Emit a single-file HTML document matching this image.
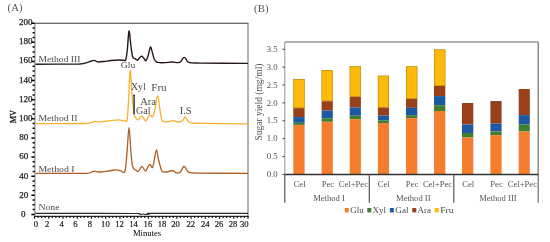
<!DOCTYPE html>
<html><head><meta charset="utf-8"><style>
html,body{margin:0;padding:0;background:#fff;width:550px;height:242px;overflow:hidden}
svg{display:block}
text{font-family:'Liberation Serif','Times New Roman',serif}
</style></head><body>
<svg width="550" height="242" viewBox="0 0 550 242">
<rect x="0" y="0" width="550" height="242" fill="#fff"/>
<line x1="34.5" y1="23.3" x2="248.5" y2="23.3" stroke="#3a3a3a" stroke-width="1.1"/>
<line x1="248.0" y1="23.3" x2="248.0" y2="217.5" stroke="#8a8a8a" stroke-width="1.3"/>
<line x1="34.9" y1="22.8" x2="34.9" y2="217.2" stroke="#777" stroke-width="1.0"/>
<line x1="34.5" y1="216.4" x2="248.5" y2="216.4" stroke="#2a2a2a" stroke-width="1.15"/>
<path d="M31.4 214.40H34.7M32.6 209.62H34.7M32.6 204.84H34.7M32.6 200.06H34.7M31.4 195.28H34.7M32.6 190.50H34.7M32.6 185.72H34.7M32.6 180.94H34.7M31.4 176.16H34.7M32.6 171.38H34.7M32.6 166.60H34.7M32.6 161.82H34.7M31.4 157.04H34.7M32.6 152.26H34.7M32.6 147.48H34.7M32.6 142.70H34.7M31.4 137.92H34.7M32.6 133.14H34.7M32.6 128.36H34.7M32.6 123.58H34.7M31.4 118.80H34.7M32.6 114.02H34.7M32.6 109.24H34.7M32.6 104.46H34.7M31.4 99.68H34.7M32.6 94.90H34.7M32.6 90.12H34.7M32.6 85.34H34.7M31.4 80.56H34.7M32.6 75.78H34.7M32.6 71.00H34.7M32.6 66.22H34.7M31.4 61.44H34.7M32.6 56.66H34.7M32.6 51.88H34.7M32.6 47.10H34.7M31.4 42.32H34.7M32.6 37.54H34.7M32.6 32.76H34.7M32.6 27.98H34.7M31.4 23.20H34.7" stroke="#000" stroke-width="1.5" fill="none"/>
<path d="M34.50 216.2V218.8M38.06 216.2V218.0M41.62 216.2V218.0M45.17 216.2V218.0M48.73 216.2V218.8M52.29 216.2V218.0M55.85 216.2V218.0M59.41 216.2V218.0M62.97 216.2V218.8M66.53 216.2V218.0M70.08 216.2V218.0M73.64 216.2V218.0M77.20 216.2V218.8M80.76 216.2V218.0M84.32 216.2V218.0M87.88 216.2V218.0M91.43 216.2V218.8M94.99 216.2V218.0M98.55 216.2V218.0M102.11 216.2V218.0M105.67 216.2V218.8M109.22 216.2V218.0M112.78 216.2V218.0M116.34 216.2V218.0M119.90 216.2V218.8M123.46 216.2V218.0M127.02 216.2V218.0M130.57 216.2V218.0M134.13 216.2V218.8M137.69 216.2V218.0M141.25 216.2V218.0M144.81 216.2V218.0M148.37 216.2V218.8M151.93 216.2V218.0M155.48 216.2V218.0M159.04 216.2V218.0M162.60 216.2V218.8M166.16 216.2V218.0M169.72 216.2V218.0M173.28 216.2V218.0M176.83 216.2V218.8M180.39 216.2V218.0M183.95 216.2V218.0M187.51 216.2V218.0M191.07 216.2V218.8M194.62 216.2V218.0M198.18 216.2V218.0M201.74 216.2V218.0M205.30 216.2V218.8M208.86 216.2V218.0M212.42 216.2V218.0M215.97 216.2V218.0M219.53 216.2V218.8M223.09 216.2V218.0M226.65 216.2V218.0M230.21 216.2V218.0M233.77 216.2V218.8M237.32 216.2V218.0M240.88 216.2V218.0M244.44 216.2V218.0M248.00 216.2V218.8" stroke="#111" stroke-width="1.2" fill="none"/>
<text x="25.6" y="216.90" text-anchor="end" font-size="9.0" fill="#1a1a1a" stroke="#1a1a1a" stroke-width="0.25">0</text>
<text x="28.3" y="197.70" text-anchor="end" font-size="9.0" fill="#1a1a1a" stroke="#1a1a1a" stroke-width="0.25">20</text>
<text x="28.3" y="178.50" text-anchor="end" font-size="9.0" fill="#1a1a1a" stroke="#1a1a1a" stroke-width="0.25">40</text>
<text x="28.3" y="159.30" text-anchor="end" font-size="9.0" fill="#1a1a1a" stroke="#1a1a1a" stroke-width="0.25">60</text>
<text x="28.3" y="140.10" text-anchor="end" font-size="9.0" fill="#1a1a1a" stroke="#1a1a1a" stroke-width="0.25">80</text>
<text x="32.4" y="120.90" text-anchor="end" font-size="9.0" fill="#1a1a1a" stroke="#1a1a1a" stroke-width="0.25">100</text>
<text x="32.4" y="101.70" text-anchor="end" font-size="9.0" fill="#1a1a1a" stroke="#1a1a1a" stroke-width="0.25">120</text>
<text x="32.4" y="82.50" text-anchor="end" font-size="9.0" fill="#1a1a1a" stroke="#1a1a1a" stroke-width="0.25">140</text>
<text x="32.4" y="63.30" text-anchor="end" font-size="9.0" fill="#1a1a1a" stroke="#1a1a1a" stroke-width="0.25">160</text>
<text x="32.4" y="44.10" text-anchor="end" font-size="9.0" fill="#1a1a1a" stroke="#1a1a1a" stroke-width="0.25">180</text>
<text x="32.4" y="24.90" text-anchor="end" font-size="9.0" fill="#1a1a1a" stroke="#1a1a1a" stroke-width="0.25">200</text>
<text x="35.9" y="227.4" text-anchor="middle" font-size="8.6" fill="#1a1a1a" stroke="#1a1a1a" stroke-width="0.2">0</text>
<text x="47.1" y="227.4" text-anchor="middle" font-size="8.6" fill="#1a1a1a" stroke="#1a1a1a" stroke-width="0.2">2</text>
<text x="61.6" y="227.4" text-anchor="middle" font-size="8.6" fill="#1a1a1a" stroke="#1a1a1a" stroke-width="0.2">4</text>
<text x="75.3" y="227.4" text-anchor="middle" font-size="8.6" fill="#1a1a1a" stroke="#1a1a1a" stroke-width="0.2">6</text>
<text x="89.8" y="227.4" text-anchor="middle" font-size="8.6" fill="#1a1a1a" stroke="#1a1a1a" stroke-width="0.2">8</text>
<text x="105.4" y="227.4" text-anchor="middle" font-size="8.6" fill="#1a1a1a" stroke="#1a1a1a" stroke-width="0.2">10</text>
<text x="119.6" y="227.4" text-anchor="middle" font-size="8.6" fill="#1a1a1a" stroke="#1a1a1a" stroke-width="0.2">12</text>
<text x="133.5" y="227.4" text-anchor="middle" font-size="8.6" fill="#1a1a1a" stroke="#1a1a1a" stroke-width="0.2">14</text>
<text x="147.9" y="227.4" text-anchor="middle" font-size="8.6" fill="#1a1a1a" stroke="#1a1a1a" stroke-width="0.2">16</text>
<text x="162.0" y="227.4" text-anchor="middle" font-size="8.6" fill="#1a1a1a" stroke="#1a1a1a" stroke-width="0.2">18</text>
<text x="175.5" y="227.4" text-anchor="middle" font-size="8.6" fill="#1a1a1a" stroke="#1a1a1a" stroke-width="0.2">20</text>
<text x="190.7" y="227.4" text-anchor="middle" font-size="8.6" fill="#1a1a1a" stroke="#1a1a1a" stroke-width="0.2">22</text>
<text x="205.3" y="227.4" text-anchor="middle" font-size="8.6" fill="#1a1a1a" stroke="#1a1a1a" stroke-width="0.2">24</text>
<text x="219.0" y="227.4" text-anchor="middle" font-size="8.6" fill="#1a1a1a" stroke="#1a1a1a" stroke-width="0.2">26</text>
<text x="233.0" y="227.4" text-anchor="middle" font-size="8.6" fill="#1a1a1a" stroke="#1a1a1a" stroke-width="0.2">28</text>
<text x="244.2" y="227.4" text-anchor="middle" font-size="8.6" fill="#1a1a1a" stroke="#1a1a1a" stroke-width="0.2">30</text>
<text x="147" y="235.8" text-anchor="middle" font-size="8.6">Minutes</text>
<text transform="translate(16.0,116.6) rotate(-90)" text-anchor="middle" font-size="8.4" fill="#111" stroke="#111" stroke-width="0.25">MV</text>
<text x="7.6" y="11.3" font-size="10.8" fill="#555">(A)</text>
<path d="M35.50 213.40 C46.25 213.40 83.25 213.38 100.00 213.40 C116.75 213.42 129.58 213.47 136.00 213.50 C142.42 213.53 137.75 213.45 138.50 213.60 C139.25 213.75 139.75 214.33 140.50 214.40 C141.25 214.47 142.17 213.98 143.00 214.00 C143.83 214.02 144.58 214.48 145.50 214.50 C146.42 214.52 147.67 214.27 148.50 214.10 C149.33 213.93 149.25 213.62 150.50 213.50 C151.75 213.38 139.75 213.43 156.00 213.40 C172.25 213.37 232.67 213.32 248.00 213.30" stroke="#2a2a2a" stroke-width="1.2" fill="none" stroke-linejoin="round"/>
<path d="M35.50 173.40 C42.92 173.40 71.23 173.43 80.00 173.40 C88.77 173.37 86.18 173.40 88.10 173.20 C90.02 173.00 90.50 172.55 91.50 172.20 C92.50 171.85 93.22 171.17 94.10 171.10 C94.98 171.03 95.43 171.67 96.80 171.80 C98.17 171.93 99.93 172.12 102.30 171.90 C104.67 171.68 108.65 170.83 111.00 170.50 C113.35 170.17 114.77 169.85 116.40 169.90 C118.03 169.95 119.37 170.62 120.80 170.80 C122.23 170.98 123.93 174.47 125.00 171.00 C126.07 167.53 126.53 157.28 127.20 150.00 C127.87 142.72 128.40 127.30 129.00 127.30 C129.60 127.30 130.27 143.80 130.80 150.00 C131.33 156.20 131.75 161.45 132.20 164.50 C132.65 167.55 132.87 167.33 133.50 168.30 C134.13 169.27 135.18 169.78 136.00 170.30 C136.82 170.82 137.68 171.73 138.40 171.40 C139.12 171.07 139.72 169.15 140.30 168.30 C140.88 167.45 141.32 166.20 141.90 166.30 C142.48 166.40 143.15 168.12 143.80 168.90 C144.45 169.68 145.10 171.35 145.80 171.00 C146.50 170.65 147.28 167.88 148.00 166.80 C148.72 165.72 149.35 164.37 150.10 164.50 C150.85 164.63 151.80 168.35 152.50 167.60 C153.20 166.85 153.65 162.97 154.30 160.00 C154.95 157.03 155.68 149.80 156.40 149.80 C157.12 149.80 157.75 156.60 158.60 160.00 C159.45 163.40 160.68 168.18 161.50 170.20 C162.32 172.22 162.42 171.85 163.50 172.10 C164.58 172.35 166.53 171.97 168.00 171.70 C169.47 171.43 170.97 170.35 172.30 170.50 C173.63 170.65 174.88 172.20 176.00 172.60 C177.12 173.00 178.12 173.23 179.00 172.90 C179.88 172.57 180.67 171.48 181.30 170.60 C181.93 169.72 182.33 168.28 182.80 167.60 C183.27 166.92 183.65 166.47 184.10 166.50 C184.55 166.53 184.98 167.12 185.50 167.80 C186.02 168.48 186.53 169.82 187.20 170.60 C187.87 171.38 187.37 172.08 189.50 172.50 C191.63 172.92 190.25 172.97 200.00 173.10 C209.75 173.23 240.00 173.27 248.00 173.30" stroke="#AE5E22" stroke-width="1.3" fill="none" stroke-linejoin="round"/>
<path d="M36.00 123.60 C43.33 123.58 71.33 123.55 80.00 123.50 C88.67 123.45 86.00 123.50 88.00 123.30 C90.00 123.10 90.80 122.63 92.00 122.30 C93.20 121.97 94.22 121.38 95.20 121.30 C96.18 121.22 96.53 121.75 97.90 121.80 C99.27 121.85 101.03 121.85 103.40 121.60 C105.77 121.35 109.65 120.60 112.10 120.30 C114.55 120.00 116.47 119.77 118.10 119.80 C119.73 119.83 120.67 120.32 121.90 120.50 C123.13 120.68 124.62 121.07 125.50 120.90 C126.38 120.73 126.68 122.98 127.20 119.50 C127.72 116.02 128.10 108.18 128.60 100.00 C129.10 91.82 129.62 71.23 130.20 70.40 C130.78 69.57 131.52 88.07 132.10 95.00 C132.68 101.93 133.25 108.45 133.70 112.00 C134.15 115.55 134.30 115.12 134.80 116.30 C135.30 117.48 136.10 118.50 136.70 119.10 C137.30 119.70 137.80 120.17 138.40 119.90 C139.00 119.63 139.72 118.13 140.30 117.50 C140.88 116.87 141.30 115.88 141.90 116.10 C142.50 116.32 143.25 118.00 143.90 118.80 C144.55 119.60 145.12 121.12 145.80 120.90 C146.48 120.68 147.28 118.52 148.00 117.50 C148.72 116.48 149.32 114.90 150.10 114.80 C150.88 114.70 151.92 117.70 152.70 116.90 C153.48 116.10 153.98 113.55 154.80 110.00 C155.62 106.45 156.73 95.60 157.60 95.60 C158.47 95.60 159.27 105.90 160.00 110.00 C160.73 114.10 161.17 118.23 162.00 120.20 C162.83 122.17 163.83 121.55 165.00 121.80 C166.17 122.05 167.60 121.90 169.00 121.70 C170.40 121.50 171.90 120.55 173.40 120.60 C174.90 120.65 176.48 121.97 178.00 122.00 C179.52 122.03 181.30 121.63 182.50 120.80 C183.70 119.97 184.33 117.02 185.20 117.00 C186.07 116.98 186.82 119.73 187.70 120.70 C188.58 121.67 188.45 122.37 190.50 122.80 C192.55 123.23 190.42 123.13 200.00 123.30 C209.58 123.47 240.00 123.72 248.00 123.80" stroke="#F7B02E" stroke-width="1.3" fill="none" stroke-linejoin="round"/>
<path d="M35.50 64.20 C42.08 64.18 67.25 64.18 75.00 64.10 C82.75 64.02 80.00 63.95 82.00 63.70 C84.00 63.45 85.42 63.05 87.00 62.60 C88.58 62.15 90.27 61.37 91.50 61.00 C92.73 60.63 93.57 60.33 94.40 60.40 C95.23 60.47 95.82 61.13 96.50 61.40 C97.18 61.67 97.25 61.98 98.50 62.00 C99.75 62.02 101.92 61.75 104.00 61.50 C106.08 61.25 108.57 60.75 111.00 60.50 C113.43 60.25 116.52 60.03 118.60 60.00 C120.68 59.97 122.32 60.33 123.50 60.30 C124.68 60.27 125.07 61.52 125.70 59.80 C126.33 58.08 126.75 54.80 127.30 50.00 C127.85 45.20 128.42 31.83 129.00 31.00 C129.58 30.17 130.20 40.70 130.80 45.00 C131.40 49.30 131.90 54.53 132.60 56.80 C133.30 59.07 134.18 58.03 135.00 58.60 C135.82 59.17 136.70 60.37 137.50 60.20 C138.30 60.03 139.07 58.25 139.80 57.60 C140.53 56.95 141.20 56.13 141.90 56.30 C142.60 56.47 143.32 57.88 144.00 58.60 C144.68 59.32 145.28 61.20 146.00 60.60 C146.72 60.00 147.55 57.27 148.30 55.00 C149.05 52.73 149.78 47.25 150.50 47.00 C151.22 46.75 151.98 51.50 152.60 53.50 C153.22 55.50 153.57 57.62 154.20 59.00 C154.83 60.38 155.52 61.20 156.40 61.80 C157.28 62.40 158.07 62.47 159.50 62.60 C160.93 62.73 162.95 62.70 165.00 62.60 C167.05 62.50 169.63 62.00 171.80 62.00 C173.97 62.00 176.48 62.68 178.00 62.60 C179.52 62.52 180.17 62.10 180.90 61.50 C181.63 60.90 181.85 59.68 182.40 59.00 C182.95 58.32 183.60 57.40 184.20 57.40 C184.80 57.40 185.47 58.32 186.00 59.00 C186.53 59.68 186.65 60.87 187.40 61.50 C188.15 62.13 188.40 62.53 190.50 62.80 C192.60 63.07 190.42 63.00 200.00 63.10 C209.58 63.20 240.00 63.35 248.00 63.40" stroke="#231815" stroke-width="1.4" fill="none" stroke-linejoin="round"/>
<line x1="134.1" y1="95.0" x2="134.1" y2="114.2" stroke="#161616" stroke-width="1.25"/>
<circle cx="134.1" cy="95.3" r="0.8" fill="#111"/>
<text x="38.5" y="61.7" font-size="9.0" fill="#4a4a4a" textLength="42.0" lengthAdjust="spacingAndGlyphs">Method III</text>
<text x="38.4" y="120.9" font-size="9.2" fill="#4a4a4a" textLength="39.1" lengthAdjust="spacingAndGlyphs">Method II</text>
<text x="38.4" y="171.7" font-size="9.0" fill="#4a4a4a" textLength="36.1" lengthAdjust="spacingAndGlyphs">Method I</text>
<text x="38.5" y="209.5" font-size="8.6" fill="#4a4a4a" textLength="21.0" lengthAdjust="spacingAndGlyphs">None</text>
<text x="120.8" y="67.7" font-size="8.8" fill="#4a4a4a" textLength="14.6" lengthAdjust="spacingAndGlyphs">Glu</text>
<text x="131.0" y="89.5" font-size="9.6" fill="#4a4a4a" textLength="14.7" lengthAdjust="spacingAndGlyphs">Xyl</text>
<text x="140.2" y="104.7" font-size="9.5" fill="#4a4a4a" textLength="15.8" lengthAdjust="spacingAndGlyphs">Ara</text>
<text x="136.0" y="114.0" font-size="9.6" fill="#4a4a4a" textLength="14.5" lengthAdjust="spacingAndGlyphs">Gal</text>
<text x="151.2" y="90.7" font-size="9.7" fill="#4a4a4a" textLength="15.5" lengthAdjust="spacingAndGlyphs">Fru</text>
<text x="179.7" y="114.4" font-size="9.8" fill="#4a4a4a" textLength="12.0" lengthAdjust="spacingAndGlyphs">I.S</text>
<text x="254.1" y="11.6" font-size="10.8" fill="#555">(B)</text>
<line x1="284.8" y1="42.0" x2="538.2" y2="42.0" stroke="#9a9a9a" stroke-width="1.3"/>
<line x1="284.8" y1="42.0" x2="284.8" y2="174.5" stroke="#9a9a9a" stroke-width="1.1"/>
<line x1="538.2" y1="42.0" x2="538.2" y2="202.7" stroke="#7a7a7a" stroke-width="1.3"/>
<line x1="282.4" y1="174.50" x2="284.8" y2="174.50" stroke="#444" stroke-width="1"/>
<text x="266.7" y="177.10" font-size="9.1" fill="#505050" textLength="10.9" lengthAdjust="spacingAndGlyphs">0.0</text>
<line x1="282.4" y1="156.60" x2="284.8" y2="156.60" stroke="#444" stroke-width="1"/>
<text x="266.7" y="159.20" font-size="9.1" fill="#505050" textLength="10.9" lengthAdjust="spacingAndGlyphs">0.5</text>
<line x1="282.4" y1="138.70" x2="284.8" y2="138.70" stroke="#444" stroke-width="1"/>
<text x="266.7" y="141.30" font-size="9.1" fill="#505050" textLength="10.9" lengthAdjust="spacingAndGlyphs">1.0</text>
<line x1="282.4" y1="120.80" x2="284.8" y2="120.80" stroke="#444" stroke-width="1"/>
<text x="266.7" y="123.40" font-size="9.1" fill="#505050" textLength="10.9" lengthAdjust="spacingAndGlyphs">1.5</text>
<line x1="282.4" y1="102.90" x2="284.8" y2="102.90" stroke="#444" stroke-width="1"/>
<text x="266.7" y="105.50" font-size="9.1" fill="#505050" textLength="10.9" lengthAdjust="spacingAndGlyphs">2.0</text>
<line x1="282.4" y1="85.00" x2="284.8" y2="85.00" stroke="#444" stroke-width="1"/>
<text x="266.7" y="87.60" font-size="9.1" fill="#505050" textLength="10.9" lengthAdjust="spacingAndGlyphs">2.5</text>
<line x1="282.4" y1="67.10" x2="284.8" y2="67.10" stroke="#444" stroke-width="1"/>
<text x="266.7" y="69.70" font-size="9.1" fill="#505050" textLength="10.9" lengthAdjust="spacingAndGlyphs">3.0</text>
<line x1="282.4" y1="49.20" x2="284.8" y2="49.20" stroke="#444" stroke-width="1"/>
<text x="266.7" y="51.80" font-size="9.1" fill="#505050" textLength="10.9" lengthAdjust="spacingAndGlyphs">3.5</text>
<text transform="translate(261.6,102.1) rotate(-90)" text-anchor="middle" font-size="9.5" fill="#505050">Sugar yield (mg/ml)</text>
<rect x="293.30" y="79.00" width="11.30" height="29.10" fill="#FDBA0A"/>
<rect x="293.30" y="108.10" width="11.30" height="9.00" fill="#97401A"/>
<rect x="293.30" y="117.10" width="11.30" height="5.70" fill="#1D59A3"/>
<rect x="293.30" y="122.80" width="11.30" height="2.10" fill="#3F7F2F"/>
<rect x="293.30" y="124.90" width="11.30" height="49.60" fill="#F47D2E"/>
<rect x="293.55" y="79.25" width="10.80" height="28.60" fill="none" stroke="#a87a10" stroke-width="0.5"/>
<rect x="321.60" y="70.00" width="11.20" height="31.20" fill="#FDBA0A"/>
<rect x="321.60" y="101.20" width="11.20" height="9.40" fill="#97401A"/>
<rect x="321.60" y="110.60" width="11.20" height="7.70" fill="#1D59A3"/>
<rect x="321.60" y="118.30" width="11.20" height="3.50" fill="#3F7F2F"/>
<rect x="321.60" y="121.80" width="11.20" height="52.70" fill="#F47D2E"/>
<rect x="321.85" y="70.25" width="10.70" height="30.70" fill="none" stroke="#a87a10" stroke-width="0.5"/>
<rect x="349.70" y="66.20" width="11.20" height="30.70" fill="#FDBA0A"/>
<rect x="349.70" y="96.90" width="11.20" height="10.50" fill="#97401A"/>
<rect x="349.70" y="107.40" width="11.20" height="8.30" fill="#1D59A3"/>
<rect x="349.70" y="115.70" width="11.20" height="3.50" fill="#3F7F2F"/>
<rect x="349.70" y="119.20" width="11.20" height="55.30" fill="#F47D2E"/>
<rect x="349.95" y="66.45" width="10.70" height="30.20" fill="none" stroke="#a87a10" stroke-width="0.5"/>
<rect x="377.90" y="75.70" width="11.10" height="31.90" fill="#FDBA0A"/>
<rect x="377.90" y="107.60" width="11.10" height="8.00" fill="#97401A"/>
<rect x="377.90" y="115.60" width="11.10" height="5.00" fill="#1D59A3"/>
<rect x="377.90" y="120.60" width="11.10" height="2.40" fill="#3F7F2F"/>
<rect x="377.90" y="123.00" width="11.10" height="51.50" fill="#F47D2E"/>
<rect x="378.15" y="75.95" width="10.60" height="31.40" fill="none" stroke="#a87a10" stroke-width="0.5"/>
<rect x="406.00" y="66.30" width="11.30" height="32.70" fill="#FDBA0A"/>
<rect x="406.00" y="99.00" width="11.30" height="8.80" fill="#97401A"/>
<rect x="406.00" y="107.80" width="11.30" height="7.40" fill="#1D59A3"/>
<rect x="406.00" y="115.20" width="11.30" height="2.90" fill="#3F7F2F"/>
<rect x="406.00" y="118.10" width="11.30" height="56.40" fill="#F47D2E"/>
<rect x="406.25" y="66.55" width="10.80" height="32.20" fill="none" stroke="#a87a10" stroke-width="0.5"/>
<rect x="434.00" y="49.50" width="11.30" height="36.50" fill="#FDBA0A"/>
<rect x="434.00" y="86.00" width="11.30" height="10.10" fill="#97401A"/>
<rect x="434.00" y="96.10" width="11.30" height="9.10" fill="#1D59A3"/>
<rect x="434.00" y="105.20" width="11.30" height="5.80" fill="#3F7F2F"/>
<rect x="434.00" y="111.00" width="11.30" height="63.50" fill="#F47D2E"/>
<rect x="434.25" y="49.75" width="10.80" height="36.00" fill="none" stroke="#a87a10" stroke-width="0.5"/>
<rect x="462.00" y="103.00" width="11.30" height="21.50" fill="#97401A"/>
<rect x="462.00" y="124.50" width="11.30" height="8.50" fill="#1D59A3"/>
<rect x="462.00" y="133.00" width="11.30" height="4.50" fill="#3F7F2F"/>
<rect x="462.00" y="137.50" width="11.30" height="37.00" fill="#F47D2E"/>
<rect x="490.40" y="101.00" width="11.20" height="22.60" fill="#97401A"/>
<rect x="490.40" y="123.60" width="11.20" height="7.80" fill="#1D59A3"/>
<rect x="490.40" y="131.40" width="11.20" height="3.70" fill="#3F7F2F"/>
<rect x="490.40" y="135.10" width="11.20" height="39.40" fill="#F47D2E"/>
<rect x="518.70" y="89.00" width="11.10" height="26.10" fill="#97401A"/>
<rect x="518.70" y="115.10" width="11.10" height="9.50" fill="#1D59A3"/>
<rect x="518.70" y="124.60" width="11.10" height="6.90" fill="#3F7F2F"/>
<rect x="518.70" y="131.50" width="11.10" height="43.00" fill="#F47D2E"/>
<line x1="284.8" y1="174.5" x2="538.2" y2="174.5" stroke="#333" stroke-width="1.3"/>
<line x1="284.8" y1="174.5" x2="284.8" y2="202.7" stroke="#555" stroke-width="1.2"/>
<line x1="369.3" y1="174.5" x2="369.3" y2="202.7" stroke="#555" stroke-width="1.2"/>
<line x1="453.8" y1="174.5" x2="453.8" y2="202.7" stroke="#555" stroke-width="1.2"/>
<text x="299.6" y="187.0" text-anchor="middle" font-size="8.6" fill="#555">Cel</text>
<text x="327.9" y="187.0" text-anchor="middle" font-size="8.6" fill="#555">Pec</text>
<text x="353.4" y="187.0" text-anchor="middle" font-size="8.6" fill="#555">Cel+Pec</text>
<text x="383.8" y="187.0" text-anchor="middle" font-size="8.6" fill="#555">Cel</text>
<text x="412.0" y="187.0" text-anchor="middle" font-size="8.6" fill="#555">Pec</text>
<text x="437.5" y="187.0" text-anchor="middle" font-size="8.6" fill="#555">Cel+Pec</text>
<text x="468.2" y="187.0" text-anchor="middle" font-size="8.6" fill="#555">Cel</text>
<text x="496.5" y="187.0" text-anchor="middle" font-size="8.6" fill="#555">Pec</text>
<text x="522.4" y="187.0" text-anchor="middle" font-size="8.6" fill="#555">Cel+Pec</text>
<text x="329.0" y="201.0" text-anchor="middle" font-size="8.6" fill="#555">Method I</text>
<text x="413.3" y="201.0" text-anchor="middle" font-size="8.6" fill="#555">Method II</text>
<text x="497.9" y="201.0" text-anchor="middle" font-size="8.6" fill="#555">Method III</text>
<rect x="344.8" y="208.0" width="4.0" height="4.4" fill="#F47D2E"/>
<text x="350.3" y="212.6" font-size="9.2" fill="#4a4a4a" textLength="13.4" lengthAdjust="spacingAndGlyphs">Glu</text>
<rect x="367.3" y="208.0" width="4.0" height="4.4" fill="#3F7F2F"/>
<text x="372.4" y="212.6" font-size="9.2" fill="#4a4a4a" textLength="13.6" lengthAdjust="spacingAndGlyphs">Xyl</text>
<rect x="389.8" y="208.0" width="4.0" height="4.4" fill="#1D59A3"/>
<text x="395.3" y="212.6" font-size="9.2" fill="#4a4a4a" textLength="13.2" lengthAdjust="spacingAndGlyphs">Gal</text>
<rect x="412.3" y="208.0" width="4.0" height="4.4" fill="#97401A"/>
<text x="417.6" y="212.6" font-size="9.2" fill="#4a4a4a" textLength="13.4" lengthAdjust="spacingAndGlyphs">Ara</text>
<rect x="434.7" y="208.0" width="4.0" height="4.4" fill="#FDBA0A"/>
<text x="440.2" y="212.6" font-size="9.2" fill="#4a4a4a" textLength="13.2" lengthAdjust="spacingAndGlyphs">Fru</text>
</svg>
</body></html>
